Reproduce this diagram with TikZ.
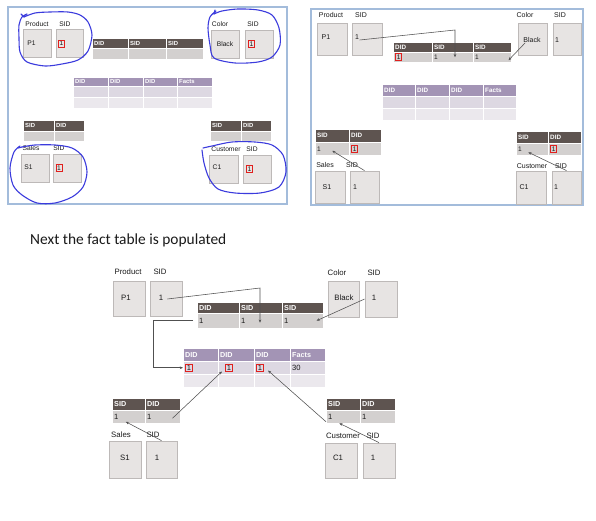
\documentclass[tikz,border=0pt]{standalone}
\usepackage{fontspec}
\setmainfont{Liberation Sans}
\newfontfamily\capfont{Carlito}
\usetikzlibrary{arrows.meta}
\definecolor{framec}{HTML}{A3BCDB}
\definecolor{penc}{HTML}{3B3BDD}
\definecolor{dheadc}{HTML}{5E5450}
\definecolor{drowc}{HTML}{D3D0CF}
\definecolor{pheadc}{HTML}{A394B5}
\definecolor{prowa}{HTML}{DDD8E2}
\definecolor{prowb}{HTML}{EBE8ED}
\definecolor{boxfillc}{HTML}{E7E4E3}
\definecolor{boxlinec}{HTML}{BDB9B8}
\definecolor{arrc}{HTML}{505050}
\definecolor{redc}{HTML}{E0201E}
\definecolor{txtc}{HTML}{1A1A1A}
\newcommand\rbox[1]{{\setlength\fboxsep{0.8pt}\setlength\fboxrule{0.8pt}\textcolor{redc}{\fbox{\textcolor{txtc}{#1}}}}}
\newcommand\cell[7]{%
  \node[#6, minimum width=#4, minimum height=#5, anchor=north west, inner sep=0pt] (#1) at (#2,#3) {};
  \node[#6txt, anchor=west, inner sep=0pt] (#1t) at ([xshift=2pt]#1.west) {#7};}
\newcommand\boxn[5]{\node[boxs, minimum width={#4-#2}, minimum height={#5-#3}] (#1) at ({(#2+#4)/2},{(#3+#5)/2}) {};}
\tikzset{
  framep/.style={draw=framec, line width=1.5pt},
  pen/.style={draw=penc, line width=1.1pt, line cap=round, line join=round},
  boxs/.style={draw=boxlinec, fill=boxfillc, line width=0.8pt, inner sep=0pt},
  lbl/.style={font=\lfs, inner sep=0pt, text=txtc},
  dh/.style={fill=dheadc, draw=white, line width=0.5pt},
  dhtxt/.style={text=white, font=\hfs\bfseries},
  dr/.style={fill=drowc, draw=white, line width=0.5pt},
  drtxt/.style={text=txtc, font=\rfs},
  ph/.style={fill=pheadc, draw=white, line width=0.5pt},
  phtxt/.style={text=white, font=\hfs\bfseries},
  pa/.style={fill=prowa, draw=white, line width=0.5pt},
  patxt/.style={text=txtc, font=\rfs},
  pb/.style={fill=prowb, draw=white, line width=0.5pt},
  pbtxt/.style={text=txtc, font=\rfs},
  conn/.style={draw=arrc, line width=0.55pt, -{Stealth[length=3.2pt,width=2.6pt]}},
}
\begin{document}
\begin{tikzpicture}[x=1pt,y=-1pt]
\useasboundingbox (0,0) rectangle (596,521);
\fill[white] (0,0) rectangle (596,521);

%================ panel 1 =================
\begin{scope}
\def\lfs{\fontsize{6.7}{8}\selectfont}
\def\hfs{\fontsize{5.9}{7}\selectfont}
\def\rfs{\fontsize{6.5}{7}\selectfont}
\draw[framep] (8,7) rectangle (287,204);
% product
\node[lbl] (aProdL) at (37,24) {Product};
\node[lbl] (aSidL1) at (65,24) {SID};
\boxn{aP}{23}{29}{51}{57}
\boxn{aS1}{56}{29}{83}{57}
\node[lbl] (aPt) at (31.5,43) {P1};
\node[lbl] (aS1t) at (61.5,43.5) {\rbox{1}};
% dark table
\foreach \x/\w/\tx [count=\i] in {92/36/DID,128/38/SID,166/37/SID}{\cell{aAh\i}{\x}{38}{\w}{10}{dh}{\tx}}
\foreach \x/\w [count=\i] in {92/36,128/38,166/37}{\cell{aAr\i}{\x}{48}{\w}{11}{dr}{}}
% fact table
\foreach \x/\w/\tx [count=\i] in {73/35/DID,108/35/DID,143/34/DID,177/35/Facts}{\cell{aBh\i}{\x}{77}{\w}{9}{ph}{\tx}}
\foreach \x/\w [count=\i] in {73/35,108/35,143/34,177/35}{\cell{aBa\i}{\x}{86}{\w}{11}{pa}{}}
\foreach \x/\w [count=\i] in {73/35,108/35,143/34,177/35}{\cell{aBb\i}{\x}{97}{\w}{11}{pb}{}}
% sales table
\foreach \x/\w/\tx [count=\i] in {23/31/SID,54/30/DID}{\cell{aCh\i}{\x}{120}{\w}{11}{dh}{\tx}}
\foreach \x/\w [count=\i] in {23/31,54/30}{\cell{aCr\i}{\x}{131}{\w}{10}{dr}{}}
% customer table
\foreach \x/\w/\tx [count=\i] in {210/31/SID,241/30/DID}{\cell{aDh\i}{\x}{120}{\w}{11}{dh}{\tx}}
\foreach \x/\w [count=\i] in {210/31,241/30}{\cell{aDr\i}{\x}{131}{\w}{10}{dr}{}}
% color
\node[lbl] (aColL) at (220,24) {Color};
\node[lbl] (aSidL2) at (253,24) {SID};
\boxn{aBlk}{211}{30}{239}{58}
\boxn{aS2}{245}{30}{273}{58}
\node[lbl] (aBlkt) at (225,44) {Black};
\node[lbl] (aS2t) at (251.5,44) {\rbox{1}};
% sales
\node[lbl] (aSalL) at (31,148) {Sales};
\node[lbl] (aSidL3) at (59,148) {SID};
\boxn{aSl}{21}{154}{49}{182}
\boxn{aS3}{53}{154}{81}{182}
\node[lbl] (aSlt) at (28.5,167) {S1};
\node[lbl] (aS3t) at (59,168) {\rbox{1}};
% customer
\node[lbl] (aCusL) at (226,149) {Customer};
\node[lbl] (aSidL4) at (252,149) {SID};
\boxn{aCu}{209}{155}{238}{183}
\boxn{aS4}{243}{155}{271}{183}
\node[lbl] (aCut) at (217,167) {C1};
\node[lbl] (aS4t) at (249.5,169) {\rbox{1}};
% hand-drawn circles
\draw[pen] plot[smooth] coordinates {(27,14) (22,17) (19,25) (19,38) (20,52) (27,62) (45,66) (62,64) (78,60) (88,51) (92,35) (88,22) (80,15) (68,12) (50,12) (35,13) (24,17)};
\draw[pen] (24,17) -- (21,14);
\draw[pen] plot[smooth] coordinates {(216,11) (210,17) (208,28) (210,45) (214,58) (235,63) (258,62) (272,57) (280,45) (279,28) (272,15) (258,10) (238,9) (222,11) (214,14)};
\draw[pen] (214,14) -- (215,10);
\draw[pen] plot[smooth] coordinates {(20,146) (14,152) (10,168) (13,185) (22,195) (37,203) (55,203) (72,197) (83,187) (87,172) (83,157) (72,148) (55,145) (35,145) (22,147)};
\draw[pen] (22,147) -- (18,148);
\draw[pen] plot[smooth] coordinates {(203,148) (212,146) (232,142) (255,142) (272,145) (283,155) (286,172) (279,187) (260,193) (235,193) (218,189) (209,178) (204,163) (202,150)};
\end{scope}

%================ panel 2 =================
\begin{scope}
\def\lfs{\fontsize{7}{8}\selectfont}
\def\hfs{\fontsize{6.3}{7}\selectfont}
\def\rfs{\fontsize{6.6}{7}\selectfont}
\draw[framep] (311,9) rectangle (583,205);
% product
\node[lbl] (bProdL) at (331,15) {Product};
\node[lbl] (bSidL1) at (361,15) {SID};
\boxn{bP}{317}{23}{347}{55}
\boxn{bS1}{352}{23}{382}{55}
\node[lbl] (bPt) at (326,37) {P1};
\node[lbl] (bS1t) at (357,37) {1};
% dark table
\foreach \x/\w/\tx [count=\i] in {393/39/DID,432/41/SID,473/38/SID}{\cell{bAh\i}{\x}{42}{\w}{10}{dh}{\tx}}
\foreach \x/\w/\tx [count=\i] in {393/39/\rbox{1},432/41/1,473/38/1}{\cell{bAr\i}{\x}{52}{\w}{10}{dr}{\tx}}
% fact table
\foreach \x/\w/\tx [count=\i] in {382/33/DID,415/34/DID,449/34/DID,483/33/Facts}{\cell{bBh\i}{\x}{84}{\w}{12}{ph}{\tx}}
\foreach \x/\w [count=\i] in {382/33,415/34,449/34,483/33}{\cell{bBa\i}{\x}{96}{\w}{12}{pa}{}}
\foreach \x/\w [count=\i] in {382/33,415/34,449/34,483/33}{\cell{bBb\i}{\x}{108}{\w}{12}{pb}{}}
% sales table
\foreach \x/\w/\tx [count=\i] in {315/34/SID,349/32/DID}{\cell{bCh\i}{\x}{129}{\w}{13}{dh}{\tx}}
\foreach \x/\w/\tx [count=\i] in {315/34/1,349/32/\rbox{1}}{\cell{bCr\i}{\x}{142}{\w}{13}{dr}{\tx}}
% customer table
\foreach \x/\w/\tx [count=\i] in {516/32/SID,548/33/DID}{\cell{bDh\i}{\x}{131}{\w}{12}{dh}{\tx}}
\foreach \x/\w/\tx [count=\i] in {516/32/1,548/33/\rbox{1}}{\cell{bDr\i}{\x}{143}{\w}{12}{dr}{\tx}}
% color
\node[lbl] (bColL) at (525,15) {Color};
\node[lbl] (bSidL2) at (560,15) {SID};
\boxn{bBlk}{518}{23}{547}{55}
\boxn{bS2}{553}{23}{581}{55}
\node[lbl] (bBlkt) at (532,40) {Black};
\node[lbl] (bS2t) at (557,40) {1};
% sales
\node[lbl] (bSalL) at (325,165) {Sales};
\node[lbl] (bSidL3) at (352,165) {SID};
\boxn{bSl}{315}{171}{345}{203}
\boxn{bS3}{350}{171}{379}{203}
\node[lbl] (bSlt) at (327,187) {S1};
\node[lbl] (bS3t) at (355,187) {1};
% customer
\node[lbl] (bCusL) at (532,166) {Customer};
\node[lbl] (bSidL4) at (561,166) {SID};
\boxn{bCu}{516}{171}{546}{204}
\boxn{bS4}{552}{171}{581}{204}
\node[lbl] (bCut) at (524,187) {C1};
\node[lbl] (bS4t) at (556,187) {1};
% connectors
\coordinate (bBend) at (455,30);
\draw[conn] ([xshift=0.5pt,yshift=-3pt]bS1t.east) -- (bBend) -- (bBend |- bAr2.center);
\draw[conn] ([xshift=2pt]bBlkt.south west) -- ([xshift=-3pt,yshift=-3pt]bAr3.east);
\draw[conn] (bS3.north) -- ([yshift=-2pt]bCr1.center);
\draw[conn] (bS4.north) -- ([xshift=-4pt,yshift=-3pt]bDr1.center);
\end{scope}

%================ caption =================
\node[anchor=west, inner sep=0pt, text=txtc, font=\capfont\fontsize{15.4}{18}\selectfont] (caption) at (30,240) {Next the fact table is populated};

%================ bottom =================
\begin{scope}
\def\lfs{\fontsize{7.8}{9}\selectfont}
\def\hfs{\fontsize{7.2}{8}\selectfont}
\def\rfs{\fontsize{7.6}{9}\selectfont}
% product
\node[lbl] (cProdL) at (128,272) {Product};
\node[lbl] (cSidL1) at (160,272) {SID};
\boxn{cP}{113}{281}{145}{316}
\boxn{cS1}{150}{281}{182}{316}
\node[lbl] (cPt) at (126,298) {P1};
\node[lbl] (cS1t) at (161,298) {1};
% dark table
\foreach \x/\w/\tx [count=\i] in {197/42/DID,239/43/SID,282/41/SID}{\cell{cAh\i}{\x}{302}{\w}{11}{dh}{\tx}}
\foreach \x/\w/\tx [count=\i] in {197/42/1,239/43/1,282/41/1}{\cell{cAr\i}{\x}{313}{\w}{15}{dr}{\tx}}
% fact table
\foreach \x/\w/\tx [count=\i] in {183/35/DID,218/36/DID,254/36/DID,290/35/Facts}{\cell{cPh\i}{\x}{348}{\w}{13}{ph}{\tx}}
\foreach \x/\w/\tx [count=\i] in {183/35/\rbox{1},218/36/\hspace{5pt}\rbox{1},254/36/\rbox{1},290/35/30}{\cell{cPr\i}{\x}{361}{\w}{13}{pa}{\tx}}
\foreach \x/\w [count=\i] in {183/35,218/36,254/36,290/35}{\cell{cPb\i}{\x}{374}{\w}{13}{pb}{}}
% color
\node[lbl] (cColL) at (337,273) {Color};
\node[lbl] (cSidL2) at (374,273) {SID};
\boxn{cBlk}{328}{281}{359}{317}
\boxn{cS2}{365}{281}{397}{317}
\node[lbl] (cBlkt) at (344,298) {Black};
\node[lbl] (cS2t) at (374,298) {1};
% sales table
\foreach \x/\w/\tx [count=\i] in {112/33/SID,145/35/DID}{\cell{cEh\i}{\x}{398}{\w}{12}{dh}{\tx}}
\foreach \x/\w/\tx [count=\i] in {112/33/1,145/35/1}{\cell{cEr\i}{\x}{410}{\w}{13}{dr}{\tx}}
% customer table
\foreach \x/\w/\tx [count=\i] in {326/34/SID,360/35/DID}{\cell{cFh\i}{\x}{398}{\w}{12}{dh}{\tx}}
\foreach \x/\w/\tx [count=\i] in {326/34/1,360/35/1}{\cell{cFr\i}{\x}{410}{\w}{13}{dr}{\tx}}
% sales
\node[lbl] (cSalL) at (121,435) {Sales};
\node[lbl] (cSidL3) at (153,435) {SID};
\boxn{cSl}{109}{441}{141}{478}
\boxn{cS3}{146}{441}{177}{478}
\node[lbl] (cSlt) at (125,458) {S1};
\node[lbl] (cS3t) at (157,458) {1};
% customer
\node[lbl] (cCusL) at (343,436) {Customer};
\node[lbl] (cSidL4) at (373,436) {SID};
\boxn{cCu}{325}{443}{357}{478}
\boxn{cS4}{363}{443}{395}{478}
\node[lbl] (cCut) at (338,458) {C1};
\node[lbl] (cS4t) at (373,458) {1};
% connectors
\coordinate (cBend) at (260,288);
\draw[conn] ([xshift=4pt,yshift=-1pt]cS1t.east) -- (cBend) -- ([yshift=-2pt]cBend |- cAr2.center);
\draw[conn] ([xshift=-4pt]cAr1.west) -- ++(-40,0) |- (cPr1.west);
\draw[conn] (cS2.west) -- ([xshift=-7pt]cAr3.east);
\draw[conn] ([xshift=-8pt,yshift=-1.5pt]cEr2.east) -- ([xshift=4pt,yshift=3pt]cPr2.south west);
\draw[conn] (cS3.north) -- ([xshift=-3pt,yshift=-5pt]cEr1.center);
\draw[conn] ([yshift=-5pt]cFr1.west) -- ([xshift=14pt,yshift=4pt]cPr3.south west);
\draw[conn] (cS4.north) -- ([xshift=-4pt,yshift=-6.5pt]cFr1.center);
\end{scope}
\end{tikzpicture}
\end{document}
